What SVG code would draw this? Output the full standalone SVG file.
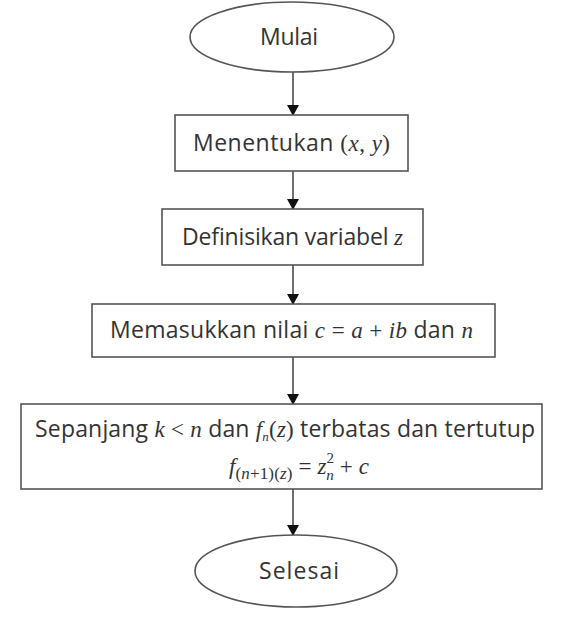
<svg xmlns="http://www.w3.org/2000/svg" width="582" height="618" viewBox="0 0 582 618">
<defs>
<marker id="ah" markerWidth="12" markerHeight="12" refX="10" refY="6" orient="auto" markerUnits="userSpaceOnUse">
<path d="M0,0 L11,6 L0,12 Z" fill="#111"/>
</marker>
<style>
.shape{fill:#fff;stroke:#555;stroke-width:1.6}
.t{font-family:"Open Sans","Noto Sans",sans-serif;font-size:23px;fill:#333;text-anchor:middle}
.m{font-family:"Liberation Serif","DejaVu Serif",serif;font-style:italic}
.u{font-family:"Liberation Serif","DejaVu Serif",serif;font-style:normal}
.conn{stroke:#333;stroke-width:1.4;fill:none;marker-end:url(#ah)}
</style>
</defs>
<rect width="582" height="618" fill="#fff"/>
<g id="connectors">
<line class="conn" x1="293" y1="72" x2="293" y2="115"/>
<line class="conn" x1="293" y1="171" x2="293" y2="209"/>
<line class="conn" x1="293" y1="265" x2="293" y2="304"/>
<line class="conn" x1="293" y1="357" x2="293" y2="404"/>
<line class="conn" x1="293" y1="489" x2="293" y2="535"/>
</g>
<g id="start">
<ellipse class="shape" cx="292" cy="37" rx="102" ry="35"/>
<text class="t" x="289" y="45" textLength="58">Mulai</text>
</g>
<g id="step1">
<rect class="shape" x="175" y="115" width="233" height="56"/>
<text class="t" x="291.5" y="151" textLength="197">Menentukan <tspan class="u">(</tspan><tspan class="m">x</tspan><tspan class="u">, </tspan><tspan class="m">y</tspan><tspan class="u">)</tspan></text>
</g>
<g id="step2">
<rect class="shape" x="162" y="209" width="261" height="56"/>
<text class="t" x="292.5" y="245" textLength="221">Definisikan variabel <tspan class="m">z</tspan></text>
</g>
<g id="step3">
<rect class="shape" x="92" y="304" width="403" height="53"/>
<text class="t" x="291.5" y="338" textLength="363">Memasukkan nilai <tspan class="m">c</tspan> <tspan class="u">=</tspan> <tspan class="m">a</tspan> <tspan class="u">+</tspan> <tspan class="m">ib</tspan> dan <tspan class="m">n</tspan></text>
</g>
<g id="step4">
<rect class="shape" x="21" y="404" width="521" height="85"/>
<text class="t" x="285" y="437" textLength="500">Sepanjang <tspan class="m">k</tspan> <tspan class="u">&lt;</tspan> <tspan class="m">n</tspan> dan <tspan class="m">f</tspan><tspan class="m" font-size="13" dy="4">n</tspan><tspan class="u" dy="-4">(</tspan><tspan class="m">z</tspan><tspan class="u">)</tspan> terbatas dan tertutup</text>
<text class="t m" x="299" y="474" font-size="29" textLength="140"><tspan>f</tspan><tspan font-size="17" dy="5" class="u">(</tspan><tspan font-size="17">n</tspan><tspan font-size="17" class="u">+1)(</tspan><tspan font-size="17">z</tspan><tspan font-size="17" class="u">)</tspan><tspan dy="-5" class="u"> = </tspan><tspan>z</tspan><tspan font-size="15" class="u" dy="-11">2</tspan><tspan font-size="15" dx="-8" dy="17">n</tspan><tspan dy="-6" class="u"> + </tspan><tspan>c</tspan></text>
</g>
<g id="end">
<ellipse class="shape" cx="296" cy="571" rx="101" ry="36"/>
<text class="t" x="299" y="579" textLength="80">Selesai</text>
</g>
</svg>
